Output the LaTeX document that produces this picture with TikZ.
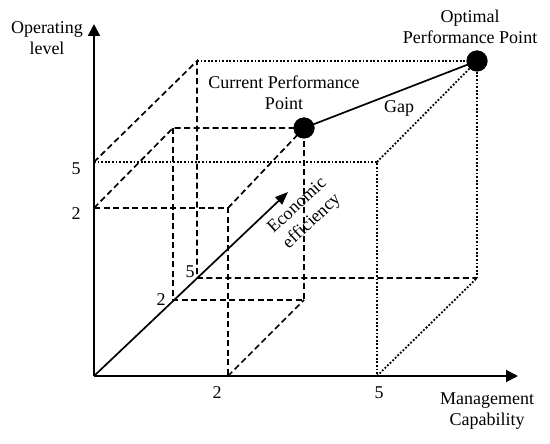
\documentclass[tikz,border=0pt]{standalone}
\usepackage{fontspec}
\setmainfont{Liberation Serif}
\usetikzlibrary{arrows.meta}
\tikzset{
  axisline/.style={line width=1.9bp,-{Triangle[length=12bp,width=12bp]}},
  dashline/.style={line width=1.7bp,dash pattern=on 6bp off 3.5bp},
  dotline/.style={line width=1.8bp,dash pattern=on 1.8bp off 1.8bp},
  pt/.style={circle,fill=black,inner sep=0pt,minimum size=21bp},
  lbl/.style={align=center,inner sep=0pt,font=\fontsize{18bp}{21.5bp}\selectfont},
}
\begin{document}
\begin{tikzpicture}[x=1bp,y=-1bp]
\useasboundingbox (0,0) rectangle (550,444);
% corners
\coordinate (O) at (94,376);
\coordinate (Xend) at (518,376);
\coordinate (Yend) at (94,24);
\coordinate (Dend) at (288,192);
% box 1
\coordinate (A1) at (94,208);
\coordinate (B1) at (228,208);
\coordinate (C1) at (228,376);
\coordinate (D1) at (173,300);
\coordinate (E1) at (304,300);
\coordinate (F1) at (173,128);
% box 2
\coordinate (A2) at (94,162);
\coordinate (B2) at (377,162);
\coordinate (C2) at (377,376);
\coordinate (D2) at (197,278);
\coordinate (E2) at (477,278);
\coordinate (F2) at (197,61);
% points
\node[pt] (cur) at (304,128) {};
\node[pt] (opt) at (477,61) {};
% box 2 dashed
\draw[dashline] (A2) -- (F2) -- (D2) -- (E2);
% box 2 dotted
\draw[dotline] (A2) -- (B2) -- (C2);
\draw[dotline] (B2) -- (opt.center);
\draw[dotline] (F2) -- (opt.center);
\draw[dotline] (opt.center) -- (E2);
\draw[dotline] (C2) -- (E2);
% box 1 dashed
\draw[dashline] (A1) -- (B1) -- (C1);
\draw[dashline] (A1) -- (F1) -- (cur.center);
\draw[dashline] (F1) -- (D1) -- (E1) -- (cur.center);
\draw[dashline] (B1) -- (cur.center);
\draw[dashline] (C1) -- (E1);
% axes
\draw[axisline] (O) -- (Xend);
\draw[axisline] (O) -- (Yend);
\draw[line width=1.7bp,-{Triangle[length=13bp,width=10bp]}] (O) -- (Dend);
% gap
\draw[line width=1.7bp] (cur.center) -- (opt.center);
\node[pt] at (cur) {};
\node[pt] at (opt) {};
% labels
\node[lbl] (ylab) at (47,38) {Operating\\level};
\node[lbl] (xlab) at (487,411) {Management\\Capability};
\node[lbl] (optlab) at (470,27) {Optimal\\Performance Point};
\node[lbl] (curlab) at (284,93) {Current Performance\\Point};
\node[lbl] (gaplab) at (399,108) {Gap};
\node[lbl,rotate=43] (eff) at (305,214) {Economic\\efficiency};
\node[lbl] (x2) at (217,393) {2};
\node[lbl] (x5) at (379,393) {5};
\node[lbl] (y5) at (76,169) {5};
\node[lbl] (y2) at (76,214) {2};
\node[lbl] (d2) at (161,300) {2};
\node[lbl] (d5) at (190,272) {5};
\end{tikzpicture}
\end{document}
